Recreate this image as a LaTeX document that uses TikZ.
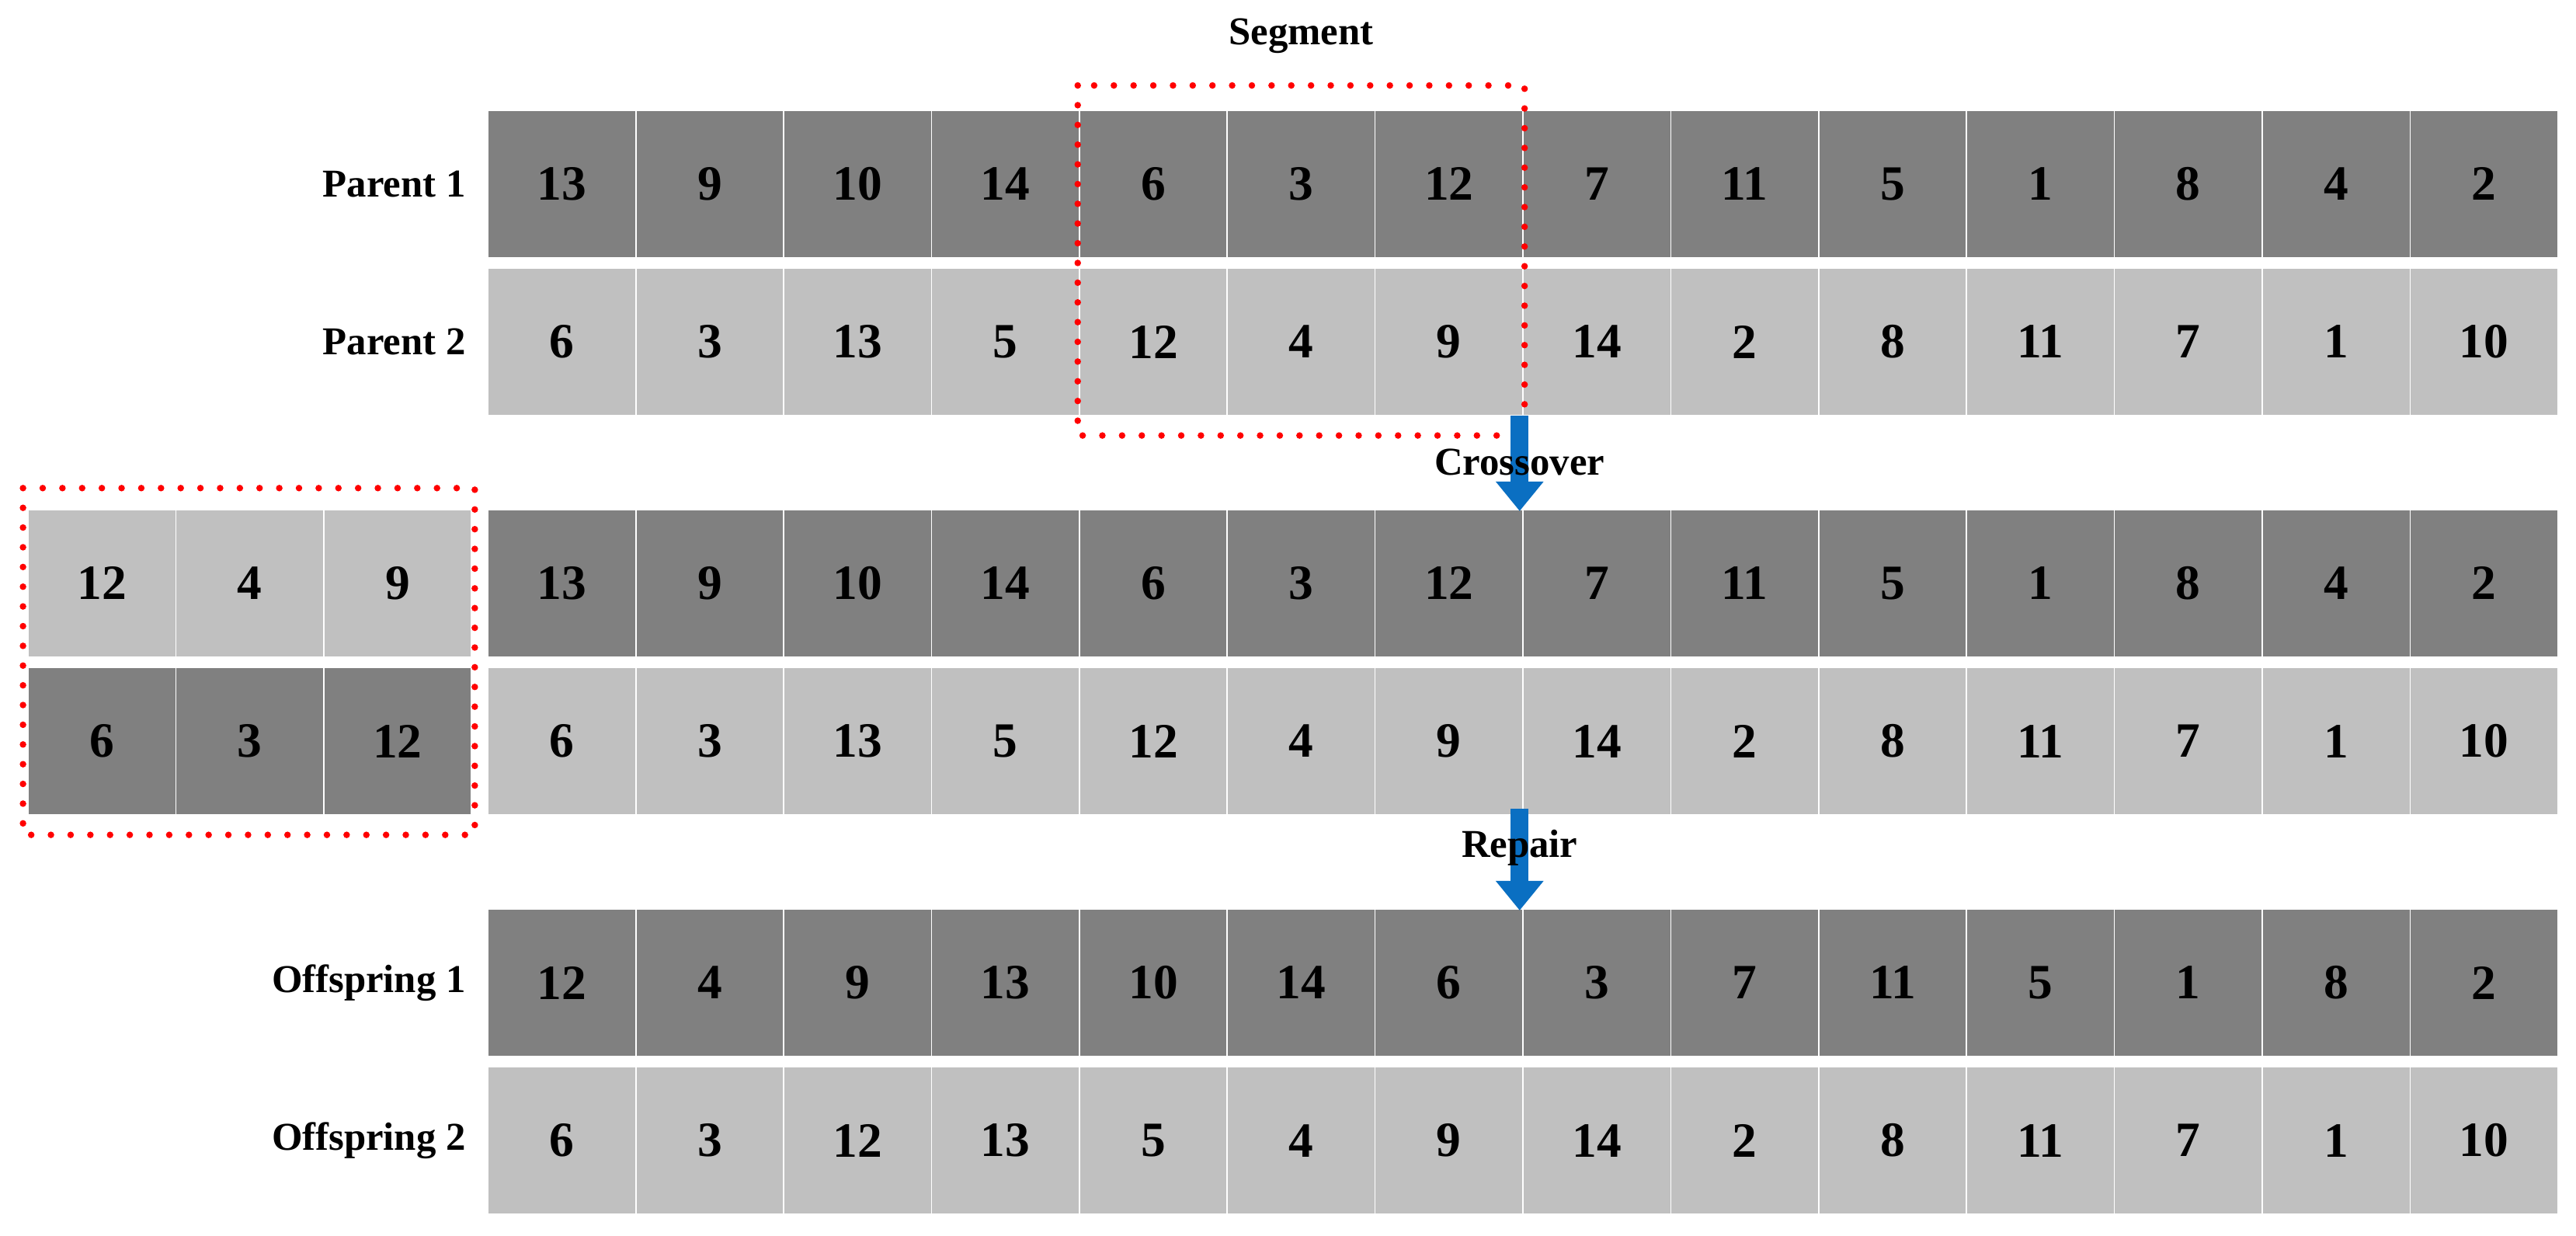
\documentclass[tikz,border=0pt]{standalone}
\usepackage{fontspec}
\setmainfont{Liberation Serif}
\usetikzlibrary{arrows.meta}
\definecolor{dk}{HTML}{808080}
\definecolor{lt}{HTML}{C0C0C0}
\definecolor{bl}{HTML}{0A6FC2}
\tikzset{
 cell/.style={minimum width=90pt,minimum height=90pt,inner sep=0pt,draw=white,line width=0.8pt,font=\fontsize{30}{30}\selectfont\bfseries},
 lab/.style={font=\fontsize{24}{24}\selectfont\bfseries,anchor=east},
 redbox/.style={draw=red,line width=4pt,dash pattern=on 0pt off 12pt,line cap=round},
 arr/.style={draw=bl,line width=11pt,-{Triangle[width=28pt,length=18pt]}}
}
\begin{document}
\begin{tikzpicture}[x=1pt,y=-1pt]
\useasboundingbox (0,0) rectangle (1568,752);
\newcommand{\rowcells}[4]{%
 \foreach \v [count=\i] in {#4} {\node[cell,fill=#3] (#1-\i) at ({297+45+90*(\i-1)},#2) {\v};}}
\rowcells{pa}{112}{dk}{13,9,10,14,6,3,12,7,11,5,1,8,4,2}
\rowcells{pb}{208}{lt}{6,3,13,5,12,4,9,14,2,8,11,7,1,10}
\rowcells{ca}{355}{dk}{13,9,10,14,6,3,12,7,11,5,1,8,4,2}
\rowcells{cb}{451}{lt}{6,3,13,5,12,4,9,14,2,8,11,7,1,10}
\rowcells{oa}{598}{dk}{12,4,9,13,10,14,6,3,7,11,5,1,8,2}
\rowcells{ob}{694}{lt}{6,3,12,13,5,4,9,14,2,8,11,7,1,10}
\foreach \v [count=\i] in {12,4,9} {\node[cell,fill=lt] (la-\i) at ({17+45+90*(\i-1)},355) {\v};}
\foreach \v [count=\i] in {6,3,12} {\node[cell,fill=dk] (lb-\i) at ({17+45+90*(\i-1)},451) {\v};}
\node[lab] (l1) at (287,112) {Parent 1};
\node[lab] (l2) at (287,208) {Parent 2};
\node[lab] (l3) at (287,598) {Offspring 1};
\node[lab] (l4) at (287,694) {Offspring 2};
\node[font=\fontsize{24}{24}\selectfont\bfseries] (seg) at (792,22) {Segment};
\draw[redbox] (656,52) rectangle (928,265);
\draw[redbox] (14,297) rectangle (289,508);
\coordinate (a1s) at (925,253); \coordinate (a1e) at (925,311);
\coordinate (a2s) at (925,492); \coordinate (a2e) at (925,554);
\draw[arr] (a1s) -- (a1e);
\draw[arr] (a2s) -- (a2e);
\node[font=\fontsize{24}{24}\selectfont\bfseries] (cx) at (925,281) {Crossover};
\node[font=\fontsize{24}{24}\selectfont\bfseries] (rp) at (925,516) {Repair};
\end{tikzpicture}
\end{document}
